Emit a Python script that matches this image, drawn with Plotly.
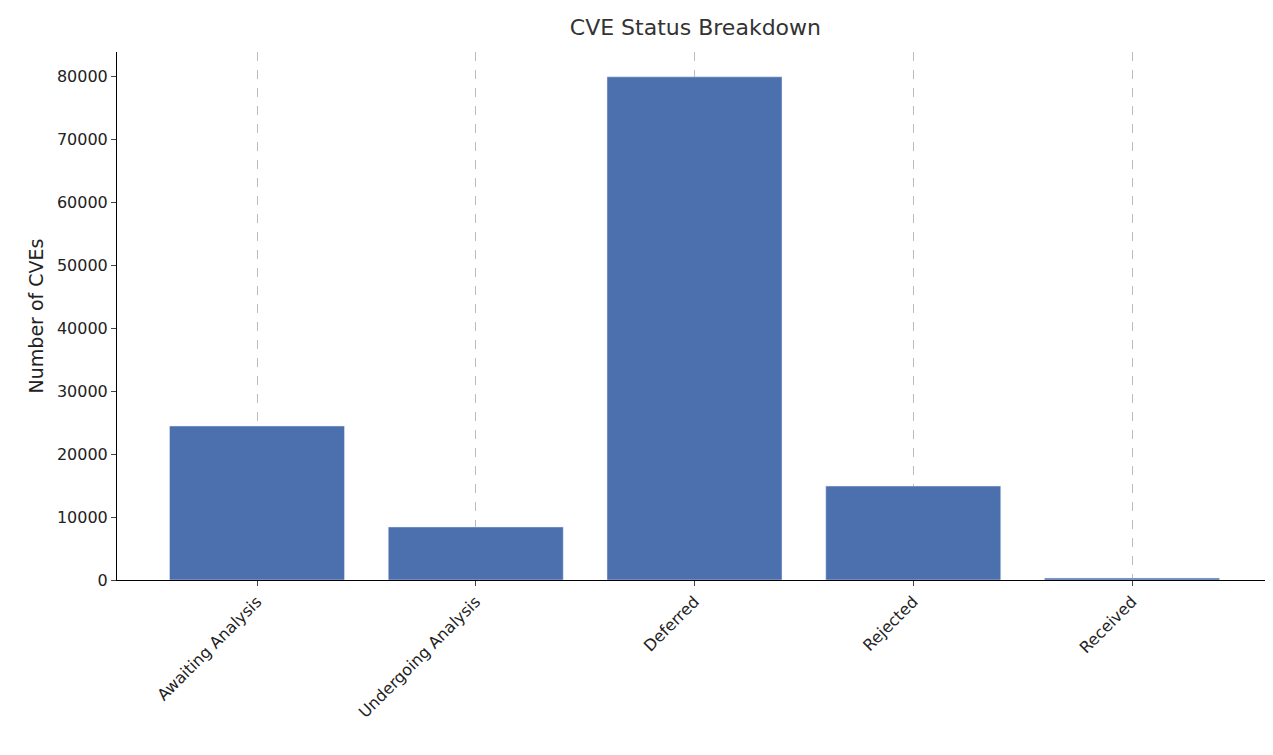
import plotly.graph_objects as go

categories = ["Awaiting Analysis", "Undergoing Analysis", "Deferred", "Rejected", "Received"]
counts = [24480, 8430, 80000, 14940, 300]

fig = go.Figure(go.Bar(x=categories, y=counts, marker_color="#4c6fae", width=0.8))
fig.update_layout(
    width=1273, height=755, plot_bgcolor="white", paper_bgcolor="white",
    margin=dict(l=109, r=9, t=44, b=183),
    font=dict(family="DejaVu Sans", size=16, color="#222"),
    title=dict(text="CVE Status Breakdown", x=0.54, xanchor="center", y=0.985, yanchor="top",
               font=dict(size=22, color="#333")),
    showlegend=False,
)
fig.update_xaxes(range=[-0.64, 4.64], tickangle=-45, showline=True, linecolor="black",
                 ticks="outside", ticklen=5, showgrid=True, gridcolor="#bbb", griddash="dash",
                 gridwidth=1, layer="above traces")
fig.update_yaxes(range=[0, 83950], dtick=10000, showline=True, linecolor="black",
                 ticks="outside", ticklen=5, showgrid=False, zeroline=False,
                 title=dict(text="Number of CVEs", standoff=8), tickformat="d")
fig.write_html("out.html")
